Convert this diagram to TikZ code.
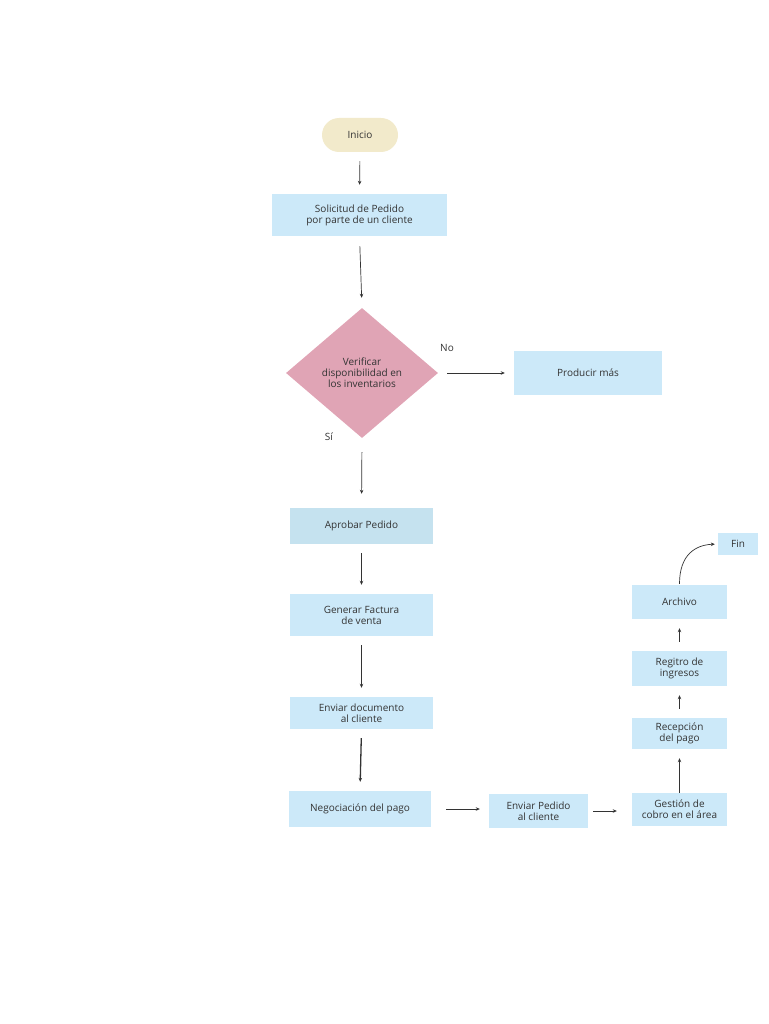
\documentclass[tikz,border=0pt]{standalone}
\usepackage{fontspec}
\setmainfont{Open Sans}
\usetikzlibrary{shapes.geometric,arrows.meta}
\definecolor{boxblue}{HTML}{CCE9F9}
\definecolor{boxblue2}{HTML}{C5E2EF}
\definecolor{beige}{HTML}{F2EACB}
\definecolor{rose}{HTML}{E0A4B5}
\definecolor{txt}{HTML}{333333}
\begin{document}
\begin{tikzpicture}[x=1pt,y=-1pt,
  font=\fontsize{10}{11}\selectfont, text=txt,
  box/.style={rectangle,fill=boxblue,align=center,inner sep=0pt},
  arr/.style={-{Stealth[length=4pt,width=3.5pt]},draw=txt,line width=0.7pt,shorten <=9pt,shorten >=9pt}]
\useasboundingbox (0,0) rectangle (768,1024);
\node[rectangle,rounded corners=17pt,fill=beige,minimum width=76pt,minimum height=34pt] (ini) at (360,135) {Inicio};
\node[box,minimum width=175pt,minimum height=42pt] (sol) at (359.5,215) {Solicitud de Pedido\\por parte de un cliente};
\node[diamond,fill=rose,minimum width=152pt,minimum height=130pt,inner sep=0pt,align=center] (ver) at (362,373) {Verificar\\disponibilidad en\\los inventarios};
\node[box,minimum width=148pt,minimum height=44pt] (pro) at (588,373) {Producir más};
\node[box,fill=boxblue2,minimum width=143pt,minimum height=36pt] (apr) at (361.5,526) {Aprobar Pedido};
\node[box,minimum width=143pt,minimum height=42pt] (gen) at (361.5,615) {Generar Factura\\de venta};
\node[box,minimum width=143pt,minimum height=32pt] (env) at (361.5,713) {Enviar documento\\al cliente};
\node[box,minimum width=142pt,minimum height=36pt] (neg) at (360,809) {Negociación del pago};
\node[box,minimum width=99pt,minimum height=34pt] (ped) at (538.5,811) {Enviar Pedido\\al cliente};
\node[box,minimum width=95pt,minimum height=33pt] (ges) at (679.5,809.5) {Gestión de\\cobro en el área};
\node[box,minimum width=95pt,minimum height=31pt] (rec) at (679.5,733.5) {Recepción\\del pago};
\node[box,minimum width=95pt,minimum height=35pt] (reg) at (679.5,668.5) {Regitro de\\ingresos};
\node[box,minimum width=95pt,minimum height=34pt] (arc) at (679.5,602) {Archivo};
\node[box,minimum width=40pt,minimum height=22pt] (fin) at (738,544) {Fin};
\node (no) at (447,348) {No};
\node (si) at (329,437) {Sí};
\draw[arr] (ini.south) -- (sol.north);
\draw[arr,shorten <=10pt,shorten >=10pt] (sol.south) -- (ver.north);
\draw[arr] (ver.east) -- (pro.west);
\draw[arr,shorten <=14pt,shorten >=14pt] (ver.south) -- (apr.north);
\draw[arr] (apr.south) -- (gen.north);
\draw[arr] (gen.south) -- (env.north);
\draw[arr,line width=1.3pt] (env.south) -- (neg.north);
\draw[arr,shorten <=15pt] (neg.east) -- (neg.east -| ped.west);
\draw[arr,shorten <=5pt,shorten >=15pt] (ped.east) -- (ped.east -| ges.west);
\draw[arr] (ges.north) -- (rec.north |- ges.north) -- (rec.south);
\draw[arr] (rec.north) -- (reg.south);
\draw[arr] (reg.north) -- (arc.south);
\draw[arr,shorten >=3pt,shorten <=1pt] (arc.north) .. controls (679.5,555) and (695,545) .. (fin.west);
\end{tikzpicture}
\end{document}
